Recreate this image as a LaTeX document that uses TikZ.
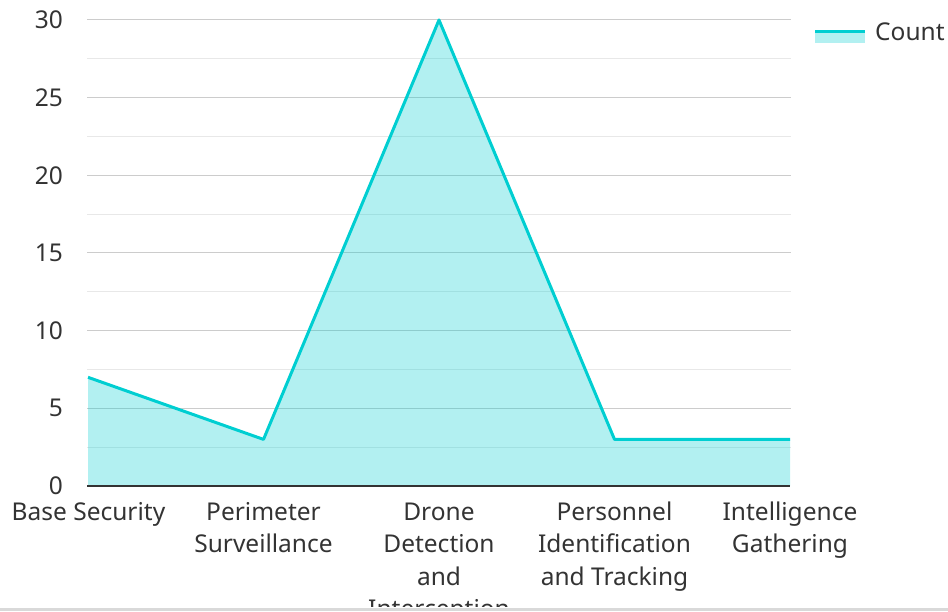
\documentclass[tikz,border=0pt]{standalone}
\usepackage{fontspec}
\setmainfont{Noto Sans}
\usepackage{tikz}

\definecolor{lineteal}{HTML}{00CED1}
\definecolor{txtgray}{HTML}{333333}
\definecolor{gridmaj}{HTML}{CCCCCC}
\definecolor{gridmin}{HTML}{E8E8E8}
\definecolor{footgray}{HTML}{D9D9D9}

\begin{document}
\begin{tikzpicture}[x=1pt, y=-1pt, font=\fontsize{24.5}{32.5}\selectfont, text=txtgray,
    ticklabel/.style={anchor=east, inner sep=0pt},
    catlabel/.style={anchor=north, align=center, inner sep=0pt}]
        \useasboundingbox (0,0) rectangle (948,612);
        % grid lines, minor then major
        \foreach \v in {1,3,...,11}
            \draw[gridmin, line width=1pt] (87,{486-\v*38.833}) -- (791,{486-\v*38.833});
        \foreach \v/\t in {1/5,2/10,3/15,4/20,5/25,6/30}
            \draw[gridmaj, line width=1pt] (87,{486-\v*77.667}) -- (791,{486-\v*77.667});
        \foreach \v/\t in {0/0,1/5,2/10,3/15,4/20,5/25,6/30}
            \node[ticklabel] (tick\t) at (63,{486-\v*77.667}) {\t};
        % data points
        \coordinate (base0) at (88,486);
        \coordinate (base4) at (790,486);
        \coordinate (p0) at (88,377.3);
        \coordinate (p1) at (263.5,439.4);
        \coordinate (p2) at (439,20);
        \coordinate (p3) at (614.5,439.4);
        \coordinate (p4) at (790,439.4);
        \fill[lineteal, fill opacity=0.3] (base0) -- (p0) -- (p1) -- (p2) -- (p3) -- (p4) -- (base4) -- cycle;
        \draw[lineteal, line width=3pt, line join=round] (p0) -- (p1) -- (p2) -- (p3) -- (p4);
        \draw[txtgray, line width=2.5pt] (87,486) -- (base4);
        % category labels, cut at the bottom edge
        \begin{scope}
            \clip (0,0) rectangle (948,606);
            \node[catlabel] (cat0) at (88.5,497.5) {\strut Base Security};
            \node[catlabel] (cat1) at (263.5,497.5) {\strut Perimeter\\Surveillance};
            \node[catlabel] (cat2) at (439,497.5) {\strut Drone\\Detection\\and\\Interception};
            \node[catlabel] (cat3) at (614.5,497.5) {\strut Personnel\\Identification\\and Tracking};
            \node[catlabel] (cat4) at (790,497.5) {\strut Intelligence\\Gathering};
        \end{scope}
        \fill[footgray] (0,608) rectangle (948,611);
        % legend
        \coordinate (legA) at (815,31.5);
        \coordinate (legB) at (865,31.5);
        \fill[lineteal!30] (815,30) rectangle (865,43);
        \draw[lineteal, line width=3pt] (legA) -- (legB);
        \node[anchor=west, inner sep=0pt] (legtext) at (875,32) {Count};
\end{tikzpicture}
\end{document}
